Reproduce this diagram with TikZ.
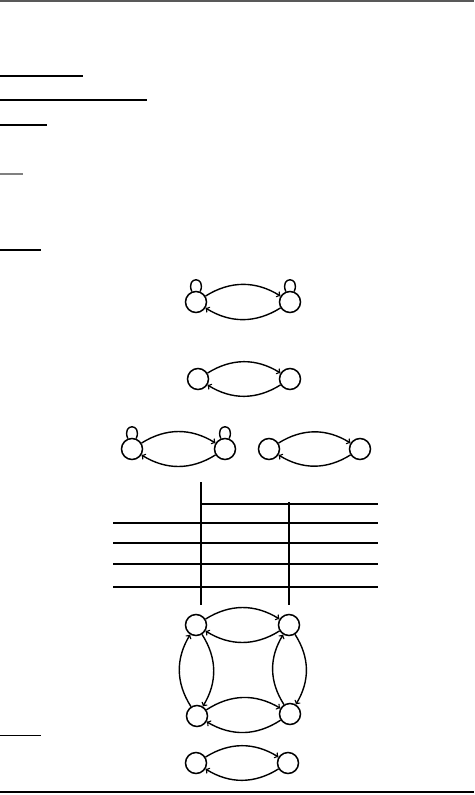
\documentclass[tikz,border=0pt]{standalone}
\usetikzlibrary{arrows}
\begin{document}
\begin{tikzpicture}[x=1pt, y=-1pt,
  state/.style={circle, draw, line width=1.5pt, minimum size=21pt, inner sep=0pt},
  link/.style={->, line width=1.4pt, bend left=32},
  selfloop/.style={-, line width=1.4pt, out=68, in=112, distance=17pt},
  rule/.style={line width=1.4pt},
  tline/.style={line width=1.7pt}]
\useasboundingbox (0,0) rectangle (474,795);

% page rules
\draw[gray!70!black, line width=2pt] (0,1) -- (474,1);
\draw[line width=2.2pt] (0,792) -- (474,792);

% underlines
\draw[rule] (0,76) -- (83,76);
\draw[rule] (0,100) -- (147,100);
\draw[rule] (0,125) -- (47,125);
\draw[rule, gray] (0,174) -- (23,174);
\draw[rule] (0,250) -- (41,250);
\draw[rule, line width=1pt] (0,735) -- (41,735);

% first graph with loops
\node[state] (a1) at (196,302) {};
\node[state] (b1) at (290,302) {};
\draw[link] (a1) to (b1);
\draw[link] (b1) to (a1);
\draw[selfloop] (a1) to (a1);
\draw[selfloop] (b1) to (b1);

% second graph
\node[state] (a2) at (198,379) {};
\node[state] (b2) at (290,379) {};
\draw[link] (a2) to (b2);
\draw[link] (b2) to (a2);

% third row, two graphs
\node[state] (a3) at (132,449) {};
\node[state] (b3) at (225,449) {};
\draw[link] (a3) to (b3);
\draw[link] (b3) to (a3);
\draw[selfloop] (a3) to (a3);
\draw[selfloop] (b3) to (b3);
\node[state] (c3) at (269,449) {};
\node[state] (d3) at (360,449) {};
\draw[link] (c3) to (d3);
\draw[link] (d3) to (c3);

% table
\draw[tline, line width=2.2pt] (201,482) -- (201,605);
\draw[tline] (289,502) -- (289,605);
\draw[tline] (201,504) -- (378,504);
\draw[tline] (113,523) -- (378,523);
\draw[tline] (113,543) -- (378,543);
\draw[tline] (113,564) -- (378,564);
\draw[tline, line width=2.2pt] (113,587) -- (378,587);

% square graph
\node[state] (tl) at (196,625) {};
\node[state] (tr) at (289,625) {};
\node[state] (bl) at (197,716) {};
\node[state] (br) at (290,714) {};
\draw[link] (tl) to (tr);
\draw[link] (tr) to (tl);
\draw[link] (tl) to (bl);
\draw[link] (bl) to (tl);
\draw[link] (tr) to (br);
\draw[link] (br) to (tr);
\draw[link] (bl) to (br);
\draw[link] (br) to (bl);

% last graph
\node[state] (a4) at (196,763) {};
\node[state] (b4) at (288,763) {};
\draw[link] (a4) to (b4);
\draw[link] (b4) to (a4);
\end{tikzpicture}
\end{document}
